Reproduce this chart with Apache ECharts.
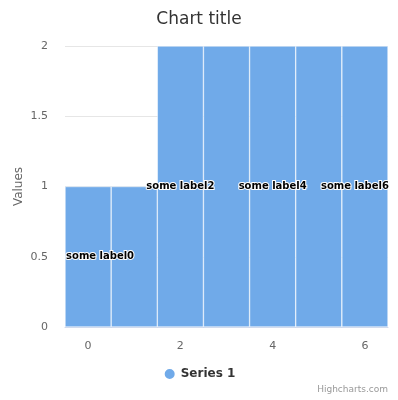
<!DOCTYPE html>
<html>
<head>
<meta charset="utf-8">
<script src="https://cdn.jsdelivr.net/npm/echarts@6/dist/echarts.min.js"></script>
<style>
  html, body { margin: 0; padding: 0; background: #fff; }
  #chart { width: 398px; height: 400px; }
</style>
</head>
<body>
<div id="chart"></div>
<script>
// data
var categories = ['0', '1', '2', '3', '4', '5', '6']
var values = [1, 1, 2, 2, 2, 2, 2]
var pointLabels = ['some label0', '', 'some label2', '', 'some label4', '', 'some label6']
var yTicks = [0, 0.5, 1, 1.5, 2]

var font = '"DejaVu Sans", "Lucida Grande", sans-serif'

var seriesData = values.map(function (v, i) {
  var item = { value: v }
  // highcharts pushes edge labels back inside the plot
  if (i === 0) item.label = { offset: [12, 0] }
  if (i === categories.length - 1) item.label = { offset: [-10, 0] }
  return item
})

var chart = echarts.init(document.getElementById('chart'))
chart.setOption({
  animation: false,
  textStyle: { fontFamily: font },
  title: {
    text: 'Chart title',
    left: 'center',
    top: 6,
    textStyle: { fontSize: 17, fontWeight: 'normal', color: '#333', fontFamily: font }
  },
  grid: { left: 65, right: 10, top: 46, bottom: 73, outerBoundsMode: 'none' },
  legend: {
    bottom: 14,
    left: 'center',
    icon: 'circle',
    itemWidth: 12,
    itemHeight: 12,
    textStyle: { fontSize: 12, fontWeight: 'bold', color: '#333', fontFamily: font }
  },
  graphic: [{
    type: 'text',
    right: 10,
    bottom: 6,
    style: { text: 'Highcharts.com', fontSize: 9, fill: '#999', fontFamily: font }
  }],
  xAxis: {
    type: 'category',
    data: categories,
    axisLine: { lineStyle: { color: '#ccd6eb' } },
    axisTick: { alignWithLabel: true, interval: 1, length: 8, lineStyle: { color: '#ccd6eb' } },
    axisLabel: { interval: 1, color: '#666', fontSize: 11, margin: 14 }
  },
  yAxis: {
    type: 'value',
    min: yTicks[0],
    max: yTicks[yTicks.length - 1],
    interval: 0.5,
    name: 'Values',
    nameLocation: 'middle',
    nameGap: 40,
    nameMoveOverlap: false,
    nameTextStyle: { color: '#666', fontSize: 12 },
    axisLine: { show: false },
    axisTick: { show: false },
    axisLabel: { color: '#666', fontSize: 11, margin: 17 },
    splitLine: { lineStyle: { color: '#e6e6e6' } }
  },
  series: [{
    name: 'Series 1',
    type: 'bar',
    data: seriesData,
    barCategoryGap: 0,
    itemStyle: { color: '#70aae9', borderColor: '#fff', borderWidth: 0.5 },
    label: {
      show: true,
      position: 'inside',
      formatter: function (p) { return pointLabels[p.dataIndex] },
      color: '#000',
      fontSize: 10,
      fontWeight: 'bold',
      textBorderColor: '#fff',
      textBorderWidth: 2
    }
  }]
})
</script>
</body>
</html>
